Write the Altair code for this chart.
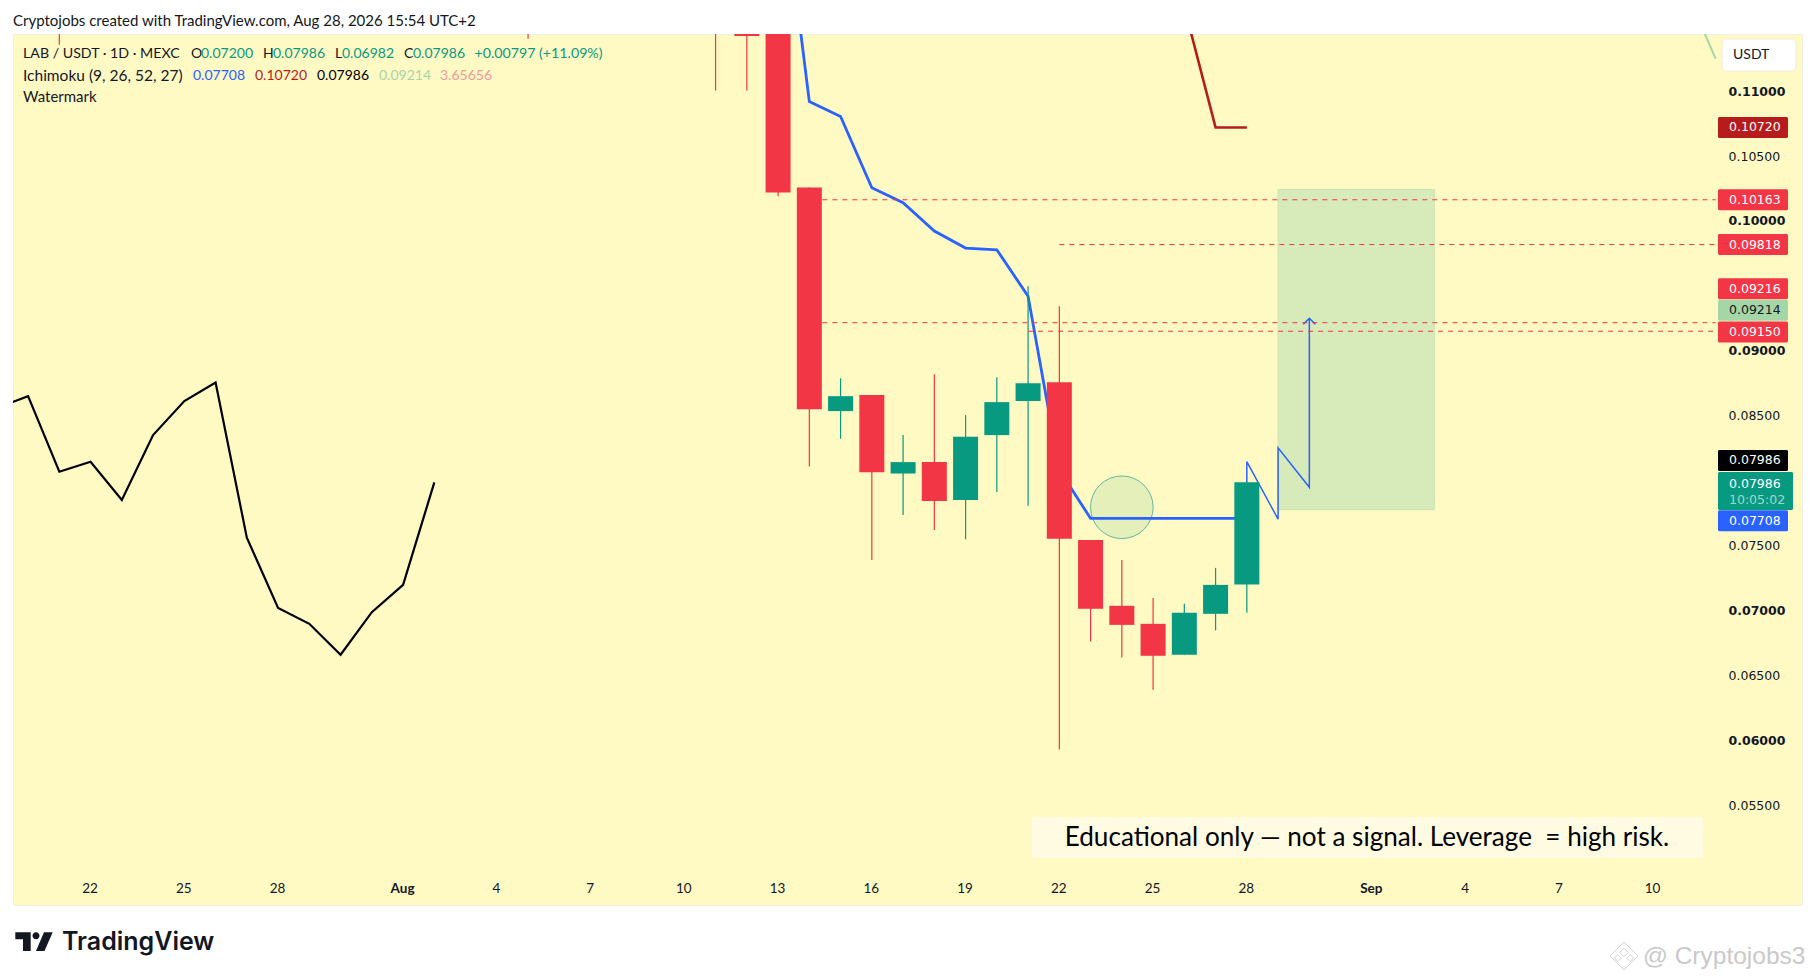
import altair as alt
import pandas as pd

# ---------- data ----------
candle_dates = ["07-21","08-05","08-11","08-12","08-13","08-14","08-15","08-16","08-17","08-18",
                "08-19","08-20","08-21","08-22","08-23","08-24","08-25","08-26","08-27","08-28"]
opens  = [0.1250,0.1250,0.1250,0.1215,0.1146,0.10258,0.08535,0.08658,0.08054,0.08142,
          0.0785,0.0835,0.08612,0.08758,0.07542,0.07035,0.06896,0.06658,0.06973,0.07200]
closes = [0.1220,0.1220,0.1160,0.11425,0.10219,0.0855,0.0865,0.08063,0.08142,0.07842,
          0.08338,0.08604,0.0875,0.07552,0.07012,0.06888,0.0665,0.06981,0.07196,0.07986]
highs  = [0.1280,0.1280,0.1300,0.1250,0.1180,0.10258,0.08788,0.08658,0.0835,0.08819,
          0.08504,0.08796,0.09496,0.09342,0.07542,0.07388,0.07096,0.0705,0.07327,0.07986]
lows   = [0.11358,0.11404,0.11004,0.11004,0.10191,0.08108,0.08322,0.07388,0.07735,0.07619,
          0.07547,0.07912,0.07806,0.05927,0.0676,0.06637,0.06388,0.06658,0.06845,0.06982]

blue_dates  = ["08-13","08-14","08-15","08-16","08-17","08-18","08-19","08-20","08-21","08-22",
               "08-23","08-24","08-25","08-26","08-27","08-28"]
blue_values = [0.1285,0.10919,0.10804,0.10255,0.1014,0.09922,0.09791,0.09778,0.09419,0.08081,
               0.07708,0.07708,0.07708,0.07708,0.07708,0.07708]

red_dates  = ["08-26","08-27","08-28"]
red_values = [0.11648,0.10720,0.10720]

black_dates  = ["07-19","07-20","07-21","07-22","07-23","07-24","07-25","07-26","07-27","07-28",
                "07-29","07-30","07-31","08-01","08-02"]
black_values = [0.08558,0.0865,0.08068,0.08145,0.0785,0.0835,0.08612,0.08755,0.0756,0.07019,
                0.06896,0.06658,0.06986,0.07196,0.07986]

span_dates  = ["09-11","09-12"]
span_values = [0.11804,0.1125]

level_values = [0.10163,0.09818,0.09216,0.09150]
level_starts = ["08-14T10:00","08-22T00:00","08-14T10:00","08-21T00:00"]
level_end    = "09-12T00:00"

draw_dates  = ["08-28","08-28","08-29","08-29","08-30","08-30"]
draw_values = [0.07986,0.08145,0.07702,0.08252,0.07948,0.0925]

box_dates  = ["08-29","09-03"]
box_prices = [0.10242,0.07775]
circle_date, circle_price = "08-24", 0.07794

y_ticks = [0.11,0.105,0.10,0.09,0.085,0.075,0.07,0.065,0.06,0.055]
x_ticks = [(7,22),(7,25),(7,28),(8,1),(8,4),(8,7),(8,10),(8,13),(8,16),(8,19),(8,22),(8,25),(8,28),
           (9,1),(9,4),(9,7),(9,10)]

tag_text   = ["0.10720","0.10163","0.09818","0.09216","0.09214","0.09150","0.07986","0.07708"]
tag_anchor = [0.1072,0.10163,0.09818,0.09478,0.09312,0.09145,0.08155,0.07691]
tag_fill   = ["#b71c1c","#f23645","#f23645","#f23645","#a5d6a7","#f23645","#000000","#2962ff"]
tag_ink    = ["#ffffff","#ffffff","#ffffff","#ffffff","#131722","#ffffff","#ffffff","#ffffff"]

# ---------- helpers ----------
PANEL_L, PANEL_T = 13, 34
W, H = 1789, 871
def iso(s):
    if "T" not in s:
        s += "T00:00"
    return f"2026-{s}:00Z"

GREEN, RED = "#089981", "#f23645"
BLUE = "#2962ff"
TEXT = "#131722"
SANS = "Lato"

x_scale = alt.Scale(type="utc", nice=False, padding=0, domain=[
    {"year":2026,"month":7,"date":19,"hours":12,"minutes":25,"utc":True},
    {"year":2026,"month":9,"date":14,"hours":18,"minutes":22,"utc":True}])
y_scale = alt.Scale(domain=[0.0473,0.1144], nice=False, zero=False)

x_axis = alt.Axis(
    values=[{"year":2026,"month":m,"date":d,"utc":True} for m,d in x_ticks],
    labelExpr="utcdate(datum.value)===1 ? utcFormat(datum.value,'%b') : utcFormat(datum.value,'%-d')",
    labelFontWeight=alt.condition("utcdate(datum.value)===1", alt.value(700), alt.value(400)),
    orient="bottom", offset=-17, title=None, domain=False, ticks=False, grid=False, labelOffset=-1,
    labelPadding=0, labelFont=SANS, labelFontSize=13.5, labelColor=TEXT, labelOverlap=False,
    labelBaseline="middle", labelFlush=False)
y_axis = alt.Axis(
    values=y_ticks, format=".5f", orient="right", offset=-74, title=None, domain=False, ticks=False,
    grid=False, labelPadding=0, labelFont="DejaVu Sans", labelFontSize=12.5, labelColor=TEXT,
    labelOverlap=False, labelFlush=False,
    labelFontWeight=alt.condition("datum.value==0.11||datum.value==0.1||datum.value==0.09||datum.value==0.07||datum.value==0.06",
                                  alt.value(700), alt.value(400)))

def X(f="d"):
    return alt.X(f"{f}:T", scale=x_scale, axis=x_axis)
def Y(f="p"):
    return alt.Y(f"{f}:Q", scale=y_scale, axis=y_axis)

def series(dates, values):
    return pd.DataFrame({"d":[iso(s) for s in dates], "p":values, "i":range(len(values))})

def line(dates, values, color, width):
    return alt.Chart(series(dates, values)).mark_line(color=color, strokeWidth=width, clip=True,
        strokeJoin="miter").encode(x=X(), y=Y(), order="i:Q")

ONE = alt.Data(values=[{"a":1}])
def txt(s, px, py, color=TEXT, size=14, font=SANS, weight="normal", align="left", opacity=1):
    return alt.Chart(ONE).mark_text(color=color, fontSize=size, font=font, fontWeight=weight,
        align=align, baseline="middle", opacity=opacity).encode(
        x=alt.value(px-PANEL_L), y=alt.value(py-PANEL_T), text=alt.value(s))
def panel(x0, x1, y0, y1, fill, stroke=None, radius=0):
    kw = {"stroke":stroke, "strokeWidth":1} if stroke else {}
    return alt.Chart(ONE).mark_rect(color=fill, cornerRadius=radius, **kw).encode(
        x=alt.value(x0-PANEL_L), x2=alt.value(x1-PANEL_L),
        y=alt.value(y0-PANEL_T), y2=alt.value(y1-PANEL_T))
def glyph(path, cx, cy, size, fill=None, stroke=None, width=1):
    return alt.Chart(ONE).mark_point(shape=path, size=size, filled=fill is not None,
        fill=fill, stroke=stroke, strokeWidth=width, opacity=1).encode(
        x=alt.value(cx-PANEL_L), y=alt.value(cy-PANEL_T))

# ---------- data layers ----------
candles = pd.DataFrame({"d":[iso(s) for s in candle_dates],"o":opens,"c":closes,"h":highs,"l":lows})
candles["dir"] = ["up" if c>=o else "down" for o,c in zip(opens,closes)]
dir_color = alt.Color("dir:N", scale=alt.Scale(domain=["up","down"], range=[GREEN,RED]), legend=None)

wicks = alt.Chart(candles).mark_rule(strokeWidth=1.2, clip=True).encode(x=X(), y=Y("h"), y2="l:Q", color=dir_color)
bodies = alt.Chart(candles).mark_bar(size=25, clip=True, strokeWidth=0).encode(x=X(), y=Y("o"), y2="c:Q", color=dir_color)

box = alt.Chart(pd.DataFrame({"a":[iso(box_dates[0])],"b":[iso(box_dates[1])],"t":[box_prices[0]],"u":[box_prices[1]]})
    ).mark_rect(color="#d7eaba", stroke="#cde4b3", strokeWidth=1).encode(x=X("a"), x2="b:T", y=Y("t"), y2="u:Q")

circle = alt.Chart(pd.DataFrame({"d":[iso(circle_date)],"p":[circle_price]})).mark_point(
    shape="circle", size=3920, filled=True, fill="#e5efba", stroke="#62b9a0", strokeWidth=1, opacity=1
    ).encode(x=X(), y=Y())

levels = alt.Chart(pd.DataFrame({"a":[iso(s) for s in level_starts],"b":[iso(level_end)]*4,"p":level_values})
    ).mark_rule(color=RED, strokeWidth=1, strokeDash=[5,5]).encode(x=X("a"), x2="b:T", y=Y())

arrow = alt.Chart(series(draw_dates[-1:], draw_values[-1:])).mark_point(
    shape="M -1 1 L 0 0 L 1 1", size=144, filled=False, stroke=BLUE, strokeWidth=1.6, opacity=1
    ).encode(x=X(), y=Y())

tags = pd.DataFrame({"t":tag_text,"a":tag_anchor,"f":tag_fill,"k":tag_ink})
tags["hi"] = tags["a"]+0.00081
tags["lo"] = tags["a"]-0.00081
tag_x0, tag_x1 = 1718-PANEL_L, 1788-PANEL_L
tag_rects = alt.Chart(tags).mark_rect(cornerRadius=1.5).encode(
    x=alt.value(tag_x0), x2=alt.value(tag_x1), y=Y("hi"), y2="lo:Q",
    color=alt.Color("f:N", scale=None))
tag_texts = alt.Chart(tags).mark_text(font="DejaVu Sans", fontSize=12.5, align="left", baseline="middle").encode(
    x=alt.value(1729-PANEL_L), y=Y("a"), text="t:N", color=alt.Color("k:N", scale=None))

LOGO = ("M -0.984 -0.489 L -0.174 -0.489 L -0.174 0.495 L -0.579 0.495 L -0.579 -0.121 L -0.984 -0.121 Z "
        "M -0.079 -0.305 A 0.184 0.184 0 1 0 0.289 -0.305 A 0.184 0.184 0 1 0 -0.079 -0.305 Z "
        "M 0.526 -0.489 L 0.984 -0.489 L 0.553 0.495 L 0.105 0.495 Z")
BINANCE = ("M 0 -1 L 1 0 L 0 1 L -1 0 Z M 0 -0.55 L 0.3 -0.25 L 0 0.05 L -0.3 -0.25 Z "
           "M -0.45 -0.1 L -0.2 0.15 L -0.45 0.4 L -0.7 0.15 Z M 0.45 -0.1 L 0.7 0.15 L 0.45 0.4 L 0.2 0.15 Z")

layers = [
    box, circle, line(black_dates, black_values, "#000000", 2.2), line(span_dates, span_values, "#a5d6a7", 2),
    line(blue_dates, blue_values, BLUE, 2.8), line(red_dates, red_values, "#b71c1c", 2.6),
    line(draw_dates, draw_values, BLUE, 1.5), arrow, wicks, bodies, levels,
    tag_rects, tag_texts,
    # countdown tag
    panel(1718, 1793, 472, 510, GREEN, radius=1.5),
    txt("0.07986", 1729, 483.5, "#ffffff", 12.5, "DejaVu Sans"),
    txt("10:05:02", 1729, 500, "#ffffff", 12.5, "DejaVu Sans", opacity=0.6),
    # currency button
    panel(1722, 1796, 39, 71, "#ffffff", "#f0eedd", 4),
    txt("USDT", 1733, 55, TEXT, 14),
    # header
    txt("Cryptojobs created with TradingView.com, Aug 28, 2026 15:54 UTC+2", 13, 21, TEXT, 15),
    txt("LAB / USDT · 1D · MEXC", 23, 54, TEXT, 14.2), txt("O", 191, 54), txt("0.07200", 201, 54, GREEN),
    txt("H", 263, 54), txt("0.07986", 273, 54, GREEN), txt("L", 335, 54), txt("0.06982", 342, 54, GREEN),
    txt("C", 404, 54), txt("0.07986", 413, 54, GREEN), txt("+0.00797 (+11.09%)", 474.5, 54, GREEN, 14.2),
    txt("Ichimoku (9, 26, 52, 27)", 23, 75.5, TEXT, 15.5), txt("0.07708", 193, 75.5, BLUE), txt("0.10720", 255, 75.5, "#b71c1c"),
    txt("0.07986", 317, 75.5, "#000000"), txt("0.09214", 379, 75.5, "#a5d6a7"), txt("3.65656", 440, 75.5, "#ef9a9a"),
    txt("Watermark", 23, 96.5, TEXT, 15),
    # disclaimer
    panel(1032, 1703, 817, 858, "#fffbe3"),
    txt("Educational only — not a signal. Leverage \u00a0= high risk.", 1367, 838, "#000000", 26.1, align="center"),
    # footer
    glyph(LOGO, 34, 941.6, 1444, fill=TEXT),
    txt("TradingView", 62, 942, TEXT, 25, "Inter", weight=600),
    glyph(BINANCE, 1624, 956, 784, stroke="#d4d4d4", width=1),
    txt("@ Cryptojobs3", 1643, 957, "#c9c9c9", 24.5, "Liberation Sans"),
]

chart = alt.layer(*layers).properties(
    width=W, height=H, background="#ffffff",
    autosize=alt.AutoSizeParams(type="none"),
    padding={"left":5,"top":26,"right":5,"bottom":65},
).configure_view(fill="#fff9c4", stroke="#f0f0e6")

chart.save("out.html", embed_options={"renderer":"svg","actions":False})
